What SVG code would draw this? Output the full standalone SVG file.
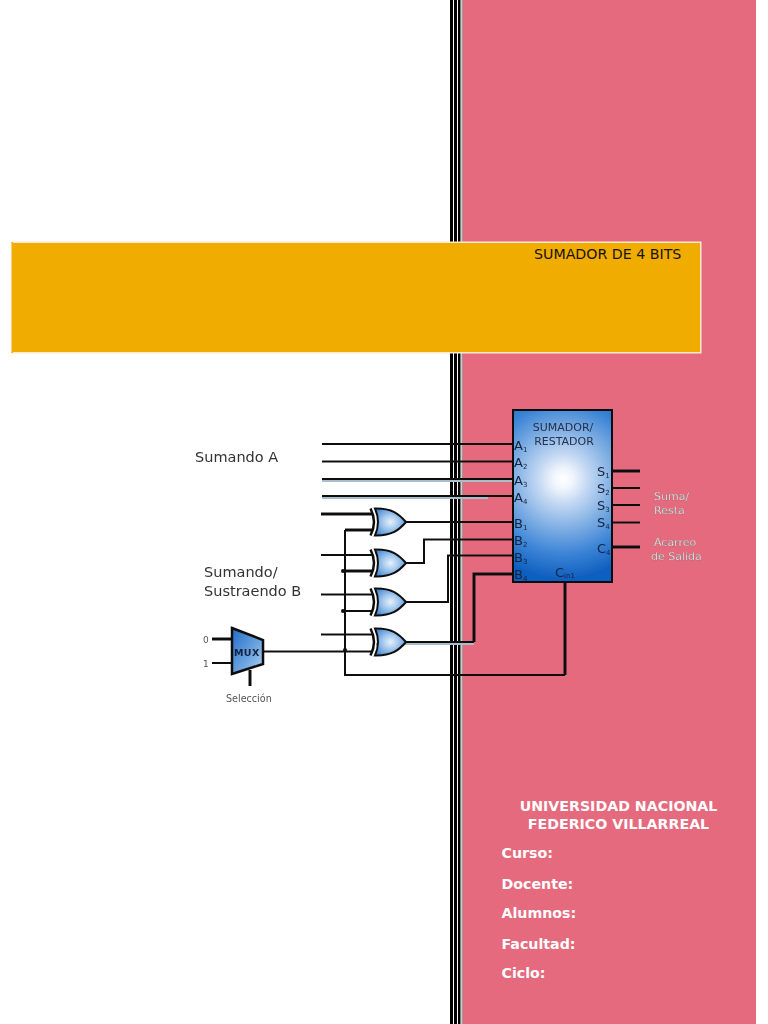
<svg xmlns="http://www.w3.org/2000/svg" width="768" height="1024" viewBox="0 0 768 1024">
<style>
.w{fill:none;stroke:#111;stroke-width:2}
.t{stroke-width:3}
.h{fill:none;stroke:#a9bccb;stroke-width:2}
text{font-family:"DejaVu Sans",Verdana,sans-serif}
.lbl{font-size:14.500px;fill:#333}
.title{font-size:14.200px;fill:#fff;font-weight:bold}
.pin{font-size:13px;fill:#15233c}
.sub{font-size:7px}
.out{font-size:11px;fill:#f4f4f4;stroke:#666;stroke-width:.25px}
.gb{stroke:#111;stroke-width:2;fill:url(#gate)}
.ga{fill:none;stroke:#111;stroke-width:2.500}
</style>
<defs>
<radialGradient id="box" gradientUnits="userSpaceOnUse" cx="563" cy="479" r="100">
<stop offset="0" stop-color="#fff"/><stop offset=".1" stop-color="#f0f5fd"/><stop offset=".25" stop-color="#c4d8f3"/><stop offset=".5" stop-color="#7eaee3"/><stop offset=".75" stop-color="#3c84d6"/><stop offset="1" stop-color="#0f5fc0"/>
</radialGradient>
<radialGradient id="gate" cx=".5" cy=".5" r=".62">
<stop offset="0" stop-color="#e6f1fc"/><stop offset=".4" stop-color="#a8caee"/><stop offset=".85" stop-color="#5a98da"/><stop offset="1" stop-color="#3a7ecb"/>
</radialGradient>
<linearGradient id="mux" x1="0" y1="0" x2="1" y2="1">
<stop offset="0" stop-color="#1f6cc8"/><stop offset=".6" stop-color="#6fa6e0"/><stop offset="1" stop-color="#b4d4f2"/>
</linearGradient>
<filter id="soft" x="-5%" y="-5%" width="110%" height="110%"><feGaussianBlur stdDeviation=".3"/></filter>
<g id="xor">
<path class="gb" d="M375,-13.500 C392,-14 399,-8 406,0 C399,8 392,14 375,13.500 Q381,0 375,-13.500Z"/>
<path class="ga" d="M370.500,-13.500 Q377.500,0 370.500,13.500"/>
</g>
</defs>

<g id="background">
<rect x="463" y="0" width="293" height="1024" fill="#e66a7d"/>
<rect x="450" y="0" width="3" height="1024" fill="#000"/>
<rect x="454" y="0" width="3" height="1024" fill="#000"/>
<rect x="458" y="0" width="2.500" height="1024" fill="#000"/>
<rect x="461.500" y="0" width="1.500" height="1024" fill="#999"/>
</g>

<g id="banner">
<rect x="11.500" y="241.500" width="690" height="112" fill="#fbe9d0"/>
<rect x="13" y="243" width="687" height="109" fill="#f0ad00"/>
<rect x="11.500" y="242" width="1.500" height="111" fill="#f0ad00"/>
<text x="534" y="258.500" font-size="14.200" fill="#1a1208">SUMADOR DE 4 BITS</text>
</g>

<g id="connectors" filter="url(#soft)">
<path class="h" d="M322,481H512M322,498H488M474,644H376"/>
<path class="w" d="M322,444H512M322,461.500H512M322,479H512M322,496H512"/>
<path class="w t" d="M321,514H372M345,530H372"/>
<path class="w" d="M321,555H372M321,594.500H372M345,611H372M321,634.500H372M263,651.500H372"/>
<path class="w t" d="M345,571H372"/>
<path class="w" d="M345,530V675H565"/>
<path class="w t" d="M565,675V583"/>
<path class="w" d="M406,522H512M406,563H424V539.500H512M406,602H448V555.500H512M406,642H474"/>
<path class="w t" d="M474,642V574H512"/>
<path class="w" d="M212,663H232"/>
<path class="w t" d="M212,639H232M250,670V686"/>
<path class="w" d="M612,488H640M612,505H640M612,522.500H640"/>
<path class="w t" d="M612,471H640M612,547H640"/>
<g fill="#111"><circle cx="343" cy="571" r="2"/><circle cx="343" cy="611" r="2"/><circle cx="345" cy="650" r="2"/></g>
</g>

<g id="sumador" filter="url(#soft)">
<rect x="513" y="410" width="99" height="172" fill="url(#box)" stroke="#111" stroke-width="2"/>
<text x="563" y="431" text-anchor="middle" font-size="11" fill="#25304a">SUMADOR/</text>
<text x="564" y="445" text-anchor="middle" font-size="11" fill="#25304a">RESTADOR</text>
<text class="pin" x="514" y="450">A<tspan class="sub" dy="2">1</tspan></text>
<text class="pin" x="514" y="467">A<tspan class="sub" dy="2">2</tspan></text>
<text class="pin" x="514" y="485">A<tspan class="sub" dy="2">3</tspan></text>
<text class="pin" x="514" y="502">A<tspan class="sub" dy="2">4</tspan></text>
<text class="pin" x="514" y="528">B<tspan class="sub" dy="2">1</tspan></text>
<text class="pin" x="514" y="545">B<tspan class="sub" dy="2">2</tspan></text>
<text class="pin" x="514" y="562">B<tspan class="sub" dy="2">3</tspan></text>
<text class="pin" x="514" y="579">B<tspan class="sub" dy="2">4</tspan></text>
<text class="pin" x="597" y="476">S<tspan class="sub" dy="2">1</tspan></text>
<text class="pin" x="597" y="493">S<tspan class="sub" dy="2">2</tspan></text>
<text class="pin" x="597" y="510">S<tspan class="sub" dy="2">3</tspan></text>
<text class="pin" x="597" y="527">S<tspan class="sub" dy="2">4</tspan></text>
<text class="pin" x="597" y="553">C<tspan class="sub" dy="2">4</tspan></text>
<text class="pin" x="555" y="577">C<tspan class="sub" dy="1">in1</tspan></text>
</g>

<g id="xor1" filter="url(#soft)"><use href="#xor" transform="translate(0,522)"/></g>
<g id="xor2" filter="url(#soft)"><use href="#xor" transform="translate(0,563)"/></g>
<g id="xor3" filter="url(#soft)"><use href="#xor" transform="translate(0,602)"/></g>
<g id="xor4" filter="url(#soft)"><use href="#xor" transform="translate(0,642)"/></g>

<g id="mux-node" filter="url(#soft)">
<path d="M232,628L263,640V664L232,674Z" fill="url(#mux)" stroke="#111" stroke-width="2.500"/>
<text x="234" y="656" font-size="9.500" font-weight="bold" letter-spacing=".4" fill="#14233f">MUX</text>
</g>

<g id="labels" filter="url(#soft)">
<text class="lbl" x="195" y="462">Sumando A</text>
<text class="lbl" x="204" y="577">Sumando/</text>
<text class="lbl" x="204" y="596">Sustraendo B</text>
<text x="203" y="643" font-size="9" fill="#555">0</text>
<text x="203" y="667" font-size="9" fill="#555">1</text>
<text x="226" y="702" font-size="9.600" fill="#555">Selección</text>
<text class="out" x="654" y="500">Suma/</text>
<text class="out" x="654" y="514">Resta</text>
<text class="out" x="654" y="546">Acarreo</text>
<text class="out" x="651" y="560">de Salida</text>
</g>

<g id="info">
<text class="title" x="618.500" y="811" text-anchor="middle">UNIVERSIDAD NACIONAL</text>
<text class="title" x="618.500" y="829" text-anchor="middle">FEDERICO VILLARREAL</text>
<text class="title" x="501.500" y="858">Curso:</text>
<text class="title" x="501.500" y="889">Docente:</text>
<text class="title" x="501.500" y="918">Alumnos:</text>
<text class="title" x="501.500" y="949">Facultad:</text>
<text class="title" x="501.500" y="978">Ciclo:</text>
</g>
</svg>
